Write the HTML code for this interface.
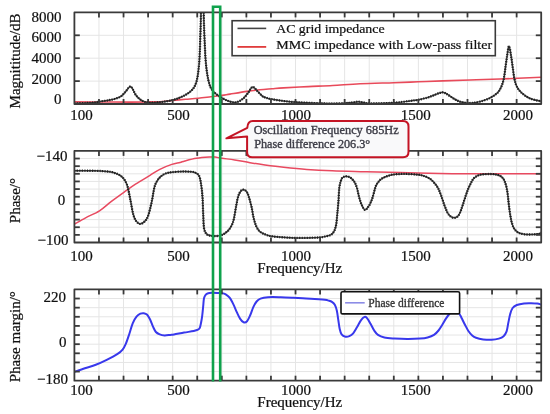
<!DOCTYPE html><html><head><meta charset="utf-8"><style>html,body{margin:0;padding:0;background:#fff;width:550px;height:414px;overflow:hidden}svg{display:block}text{font-family:"Liberation Serif","Times New Roman",serif;fill:#111;stroke:#111;stroke-width:0.22}</style></head><body>
<svg width="550" height="414" viewBox="0 0 550 414">
<clipPath id="ctop"><rect x="74.40" y="12.40" width="466.80" height="91.60"/></clipPath>
<clipPath id="cmid"><rect x="74.40" y="150.90" width="466.80" height="91.60"/></clipPath>
<clipPath id="cbot"><rect x="74.40" y="289.40" width="466.80" height="91.30"/></clipPath>
<g stroke="#e5e5e5" stroke-width="1"><line x1="98.97" y1="12.40" x2="98.97" y2="104.00"/><line x1="123.54" y1="12.40" x2="123.54" y2="104.00"/><line x1="148.11" y1="12.40" x2="148.11" y2="104.00"/><line x1="172.67" y1="12.40" x2="172.67" y2="104.00"/><line x1="197.24" y1="12.40" x2="197.24" y2="104.00"/><line x1="221.81" y1="12.40" x2="221.81" y2="104.00"/><line x1="246.38" y1="12.40" x2="246.38" y2="104.00"/><line x1="270.95" y1="12.40" x2="270.95" y2="104.00"/><line x1="295.52" y1="12.40" x2="295.52" y2="104.00"/><line x1="320.08" y1="12.40" x2="320.08" y2="104.00"/><line x1="344.65" y1="12.40" x2="344.65" y2="104.00"/><line x1="369.22" y1="12.40" x2="369.22" y2="104.00"/><line x1="393.79" y1="12.40" x2="393.79" y2="104.00"/><line x1="418.36" y1="12.40" x2="418.36" y2="104.00"/><line x1="442.93" y1="12.40" x2="442.93" y2="104.00"/><line x1="467.49" y1="12.40" x2="467.49" y2="104.00"/><line x1="492.06" y1="12.40" x2="492.06" y2="104.00"/><line x1="516.63" y1="12.40" x2="516.63" y2="104.00"/><line x1="74.40" y1="35.30" x2="541.20" y2="35.30"/><line x1="74.40" y1="58.20" x2="541.20" y2="58.20"/><line x1="74.40" y1="81.10" x2="541.20" y2="81.10"/></g>
<g clip-path="url(#ctop)" fill="none" stroke-linejoin="round">
<path d="M74.40,101.90 C78.67,101.92 90.73,101.97 100.00,102.00 C109.27,102.03 121.67,102.12 130.00,102.10 C138.33,102.08 145.00,101.97 150.00,101.90 C155.00,101.83 156.22,101.95 160.00,101.70 C163.78,101.45 168.45,100.80 172.70,100.40 C176.95,100.00 181.25,99.67 185.50,99.30 C189.75,98.93 193.97,98.63 198.20,98.20 C202.43,97.77 206.93,97.17 210.90,96.70 C214.87,96.23 218.82,95.83 222.00,95.40 C225.18,94.97 225.83,94.77 230.00,94.10 C234.17,93.43 242.00,92.12 247.00,91.40 C252.00,90.68 255.83,90.23 260.00,89.80 C264.17,89.37 268.07,89.12 272.00,88.80 C275.93,88.48 277.57,88.27 283.60,87.90 C289.63,87.53 300.02,87.00 308.20,86.60 C316.38,86.20 324.07,85.97 332.70,85.50 C341.33,85.03 349.85,84.27 360.00,83.80 C370.15,83.33 383.90,83.03 393.60,82.70 C403.30,82.37 410.02,82.10 418.20,81.80 C426.38,81.50 434.07,81.20 442.70,80.90 C451.33,80.60 460.45,80.32 470.00,80.00 C479.55,79.68 488.13,79.45 500.00,79.00 C511.87,78.55 534.33,77.58 541.20,77.30" stroke="#e84a5a" stroke-width="1.6"/>
<path d="M74.40,103.40 C76.33,103.33 82.57,103.17 86.00,103.00 C89.43,102.83 92.83,102.63 95.00,102.40 C97.17,102.17 97.33,101.87 99.00,101.60 C100.67,101.33 103.17,101.07 105.00,100.80 C106.83,100.53 108.25,100.37 110.00,100.00 C111.75,99.63 113.68,99.20 115.50,98.60 C117.32,98.00 119.23,97.53 120.90,96.40 C122.57,95.27 124.28,93.17 125.50,91.80 C126.72,90.43 127.33,89.08 128.20,88.20 C129.07,87.32 129.95,86.35 130.70,86.50 C131.45,86.65 131.90,87.77 132.70,89.10 C133.50,90.43 134.43,92.92 135.50,94.50 C136.57,96.08 137.75,97.45 139.10,98.60 C140.45,99.75 142.08,100.75 143.60,101.40 C145.12,102.05 146.53,102.28 148.20,102.50 C149.87,102.72 151.63,102.75 153.60,102.70 C155.57,102.65 158.10,102.38 160.00,102.20 C161.90,102.02 162.87,101.97 165.00,101.60 C167.13,101.23 170.40,100.63 172.80,100.00 C175.20,99.37 177.37,98.62 179.40,97.80 C181.43,96.98 183.33,96.02 185.00,95.10 C186.67,94.18 188.10,93.32 189.40,92.30 C190.70,91.28 191.87,90.12 192.80,89.00 C193.73,87.88 194.35,86.97 195.00,85.60 C195.65,84.23 196.23,82.50 196.70,80.80 C197.17,79.10 197.47,77.53 197.80,75.40 C198.13,73.27 198.43,70.57 198.70,68.00 C198.97,65.43 199.17,64.00 199.40,60.00 C199.63,56.00 199.87,50.67 200.10,44.00 C200.33,37.33 200.62,26.50 200.80,20.00 C200.98,13.50 201.13,7.50 201.20,5.00" stroke="#3a3a3a" stroke-width="1.5"/>
<path d="M74.40,103.40 C76.33,103.33 82.57,103.17 86.00,103.00 C89.43,102.83 92.83,102.63 95.00,102.40 C97.17,102.17 97.33,101.87 99.00,101.60 C100.67,101.33 103.17,101.07 105.00,100.80 C106.83,100.53 108.25,100.37 110.00,100.00 C111.75,99.63 113.68,99.20 115.50,98.60 C117.32,98.00 119.23,97.53 120.90,96.40 C122.57,95.27 124.28,93.17 125.50,91.80 C126.72,90.43 127.33,89.08 128.20,88.20 C129.07,87.32 129.95,86.35 130.70,86.50 C131.45,86.65 131.90,87.77 132.70,89.10 C133.50,90.43 134.43,92.92 135.50,94.50 C136.57,96.08 137.75,97.45 139.10,98.60 C140.45,99.75 142.08,100.75 143.60,101.40 C145.12,102.05 146.53,102.28 148.20,102.50 C149.87,102.72 151.63,102.75 153.60,102.70 C155.57,102.65 158.10,102.38 160.00,102.20 C161.90,102.02 162.87,101.97 165.00,101.60 C167.13,101.23 170.40,100.63 172.80,100.00 C175.20,99.37 177.37,98.62 179.40,97.80 C181.43,96.98 183.33,96.02 185.00,95.10 C186.67,94.18 188.10,93.32 189.40,92.30 C190.70,91.28 191.87,90.12 192.80,89.00 C193.73,87.88 194.35,86.97 195.00,85.60 C195.65,84.23 196.23,82.50 196.70,80.80 C197.17,79.10 197.47,77.53 197.80,75.40 C198.13,73.27 198.43,70.57 198.70,68.00 C198.97,65.43 199.17,64.00 199.40,60.00 C199.63,56.00 199.87,50.67 200.10,44.00 C200.33,37.33 200.62,26.50 200.80,20.00 C200.98,13.50 201.13,7.50 201.20,5.00" stroke="#1e1e1e" stroke-width="2.3" stroke-dasharray="1.1 1.4"/>
<path d="M203.50,5.00 C203.58,8.33 203.78,18.33 204.00,25.00 C204.22,31.67 204.53,39.25 204.80,45.00 C205.07,50.75 205.28,55.25 205.60,59.50 C205.92,63.75 206.25,67.12 206.70,70.50 C207.15,73.88 207.65,76.98 208.30,79.80 C208.95,82.62 209.57,85.25 210.60,87.40 C211.63,89.55 212.77,91.05 214.50,92.70 C216.23,94.35 218.72,95.92 221.00,97.30 C223.28,98.68 225.78,100.15 228.20,101.00 C230.62,101.85 233.08,102.73 235.50,102.40 C237.92,102.07 240.58,100.62 242.70,99.00 C244.82,97.38 246.57,94.70 248.20,92.70 C249.83,90.70 250.98,87.28 252.50,87.00 C254.02,86.72 255.60,89.43 257.30,91.00 C259.00,92.57 261.33,95.32 262.70,96.40 C264.07,97.48 264.12,97.05 265.50,97.50 C266.88,97.95 267.98,98.52 271.00,99.10 C274.02,99.68 279.37,100.48 283.60,101.00 C287.83,101.52 290.33,101.82 296.40,102.20 C302.47,102.58 313.95,103.07 320.00,103.30 C326.05,103.53 328.53,103.63 332.70,103.60 C336.87,103.57 341.78,103.27 345.00,103.10 C348.22,102.93 349.80,102.83 352.00,102.60 C354.20,102.37 356.20,101.70 358.20,101.70 C360.20,101.70 362.03,102.30 364.00,102.60 C365.97,102.90 365.07,103.47 370.00,103.50 C374.93,103.53 386.93,103.23 393.60,102.80 C400.27,102.37 405.82,101.42 410.00,100.90 C414.18,100.38 415.78,100.25 418.70,99.70 C421.62,99.15 424.77,98.43 427.50,97.60 C430.23,96.77 433.10,95.47 435.10,94.70 C437.10,93.93 438.32,93.40 439.50,93.00 C440.68,92.60 441.37,92.33 442.20,92.30 C443.03,92.27 443.68,92.48 444.50,92.80 C445.32,93.12 445.58,93.25 447.10,94.20 C448.62,95.15 451.42,97.23 453.60,98.50 C455.78,99.77 458.02,101.07 460.20,101.80 C462.38,102.53 464.73,102.72 466.70,102.90 C468.67,103.08 469.78,103.12 472.00,102.90 C474.22,102.68 477.07,102.38 480.00,101.60 C482.93,100.82 486.67,99.68 489.60,98.20 C492.53,96.72 495.62,94.68 497.60,92.70 C499.58,90.72 500.45,88.70 501.50,86.30 C502.55,83.90 503.23,81.50 503.90,78.30 C504.57,75.10 504.97,70.82 505.50,67.10 C506.03,63.38 506.52,59.50 507.10,56.00 C507.68,52.50 508.33,46.10 509.00,46.10 C509.67,46.10 510.48,52.50 511.10,56.00 C511.72,59.50 512.17,63.38 512.70,67.10 C513.23,70.82 513.63,75.10 514.30,78.30 C514.97,81.50 515.50,83.90 516.70,86.30 C517.90,88.70 519.37,90.72 521.50,92.70 C523.63,94.68 526.22,96.75 529.50,98.20 C532.78,99.65 539.25,100.87 541.20,101.40" stroke="#3a3a3a" stroke-width="1.5"/>
<path d="M203.50,5.00 C203.58,8.33 203.78,18.33 204.00,25.00 C204.22,31.67 204.53,39.25 204.80,45.00 C205.07,50.75 205.28,55.25 205.60,59.50 C205.92,63.75 206.25,67.12 206.70,70.50 C207.15,73.88 207.65,76.98 208.30,79.80 C208.95,82.62 209.57,85.25 210.60,87.40 C211.63,89.55 212.77,91.05 214.50,92.70 C216.23,94.35 218.72,95.92 221.00,97.30 C223.28,98.68 225.78,100.15 228.20,101.00 C230.62,101.85 233.08,102.73 235.50,102.40 C237.92,102.07 240.58,100.62 242.70,99.00 C244.82,97.38 246.57,94.70 248.20,92.70 C249.83,90.70 250.98,87.28 252.50,87.00 C254.02,86.72 255.60,89.43 257.30,91.00 C259.00,92.57 261.33,95.32 262.70,96.40 C264.07,97.48 264.12,97.05 265.50,97.50 C266.88,97.95 267.98,98.52 271.00,99.10 C274.02,99.68 279.37,100.48 283.60,101.00 C287.83,101.52 290.33,101.82 296.40,102.20 C302.47,102.58 313.95,103.07 320.00,103.30 C326.05,103.53 328.53,103.63 332.70,103.60 C336.87,103.57 341.78,103.27 345.00,103.10 C348.22,102.93 349.80,102.83 352.00,102.60 C354.20,102.37 356.20,101.70 358.20,101.70 C360.20,101.70 362.03,102.30 364.00,102.60 C365.97,102.90 365.07,103.47 370.00,103.50 C374.93,103.53 386.93,103.23 393.60,102.80 C400.27,102.37 405.82,101.42 410.00,100.90 C414.18,100.38 415.78,100.25 418.70,99.70 C421.62,99.15 424.77,98.43 427.50,97.60 C430.23,96.77 433.10,95.47 435.10,94.70 C437.10,93.93 438.32,93.40 439.50,93.00 C440.68,92.60 441.37,92.33 442.20,92.30 C443.03,92.27 443.68,92.48 444.50,92.80 C445.32,93.12 445.58,93.25 447.10,94.20 C448.62,95.15 451.42,97.23 453.60,98.50 C455.78,99.77 458.02,101.07 460.20,101.80 C462.38,102.53 464.73,102.72 466.70,102.90 C468.67,103.08 469.78,103.12 472.00,102.90 C474.22,102.68 477.07,102.38 480.00,101.60 C482.93,100.82 486.67,99.68 489.60,98.20 C492.53,96.72 495.62,94.68 497.60,92.70 C499.58,90.72 500.45,88.70 501.50,86.30 C502.55,83.90 503.23,81.50 503.90,78.30 C504.57,75.10 504.97,70.82 505.50,67.10 C506.03,63.38 506.52,59.50 507.10,56.00 C507.68,52.50 508.33,46.10 509.00,46.10 C509.67,46.10 510.48,52.50 511.10,56.00 C511.72,59.50 512.17,63.38 512.70,67.10 C513.23,70.82 513.63,75.10 514.30,78.30 C514.97,81.50 515.50,83.90 516.70,86.30 C517.90,88.70 519.37,90.72 521.50,92.70 C523.63,94.68 526.22,96.75 529.50,98.20 C532.78,99.65 539.25,100.87 541.20,101.40" stroke="#1e1e1e" stroke-width="2.3" stroke-dasharray="1.1 1.4"/>
</g>
<g stroke="#3a3a3a" stroke-width="1.8"><line x1="98.97" y1="12.40" x2="98.97" y2="17.40"/><line x1="98.97" y1="104.00" x2="98.97" y2="99.00"/><line x1="123.54" y1="12.40" x2="123.54" y2="17.40"/><line x1="123.54" y1="104.00" x2="123.54" y2="99.00"/><line x1="148.11" y1="12.40" x2="148.11" y2="17.40"/><line x1="148.11" y1="104.00" x2="148.11" y2="99.00"/><line x1="172.67" y1="12.40" x2="172.67" y2="17.40"/><line x1="172.67" y1="104.00" x2="172.67" y2="99.00"/><line x1="197.24" y1="12.40" x2="197.24" y2="17.40"/><line x1="197.24" y1="104.00" x2="197.24" y2="99.00"/><line x1="221.81" y1="12.40" x2="221.81" y2="17.40"/><line x1="221.81" y1="104.00" x2="221.81" y2="99.00"/><line x1="246.38" y1="12.40" x2="246.38" y2="17.40"/><line x1="246.38" y1="104.00" x2="246.38" y2="99.00"/><line x1="270.95" y1="12.40" x2="270.95" y2="17.40"/><line x1="270.95" y1="104.00" x2="270.95" y2="99.00"/><line x1="295.52" y1="12.40" x2="295.52" y2="17.40"/><line x1="295.52" y1="104.00" x2="295.52" y2="99.00"/><line x1="320.08" y1="12.40" x2="320.08" y2="17.40"/><line x1="320.08" y1="104.00" x2="320.08" y2="99.00"/><line x1="344.65" y1="12.40" x2="344.65" y2="17.40"/><line x1="344.65" y1="104.00" x2="344.65" y2="99.00"/><line x1="369.22" y1="12.40" x2="369.22" y2="17.40"/><line x1="369.22" y1="104.00" x2="369.22" y2="99.00"/><line x1="393.79" y1="12.40" x2="393.79" y2="17.40"/><line x1="393.79" y1="104.00" x2="393.79" y2="99.00"/><line x1="418.36" y1="12.40" x2="418.36" y2="17.40"/><line x1="418.36" y1="104.00" x2="418.36" y2="99.00"/><line x1="442.93" y1="12.40" x2="442.93" y2="17.40"/><line x1="442.93" y1="104.00" x2="442.93" y2="99.00"/><line x1="467.49" y1="12.40" x2="467.49" y2="17.40"/><line x1="467.49" y1="104.00" x2="467.49" y2="99.00"/><line x1="492.06" y1="12.40" x2="492.06" y2="17.40"/><line x1="492.06" y1="104.00" x2="492.06" y2="99.00"/><line x1="516.63" y1="12.40" x2="516.63" y2="17.40"/><line x1="516.63" y1="104.00" x2="516.63" y2="99.00"/><line x1="74.40" y1="35.30" x2="79.80" y2="35.30"/><line x1="541.20" y1="35.30" x2="535.80" y2="35.30"/><line x1="74.40" y1="58.20" x2="79.80" y2="58.20"/><line x1="541.20" y1="58.20" x2="535.80" y2="58.20"/><line x1="74.40" y1="81.10" x2="79.80" y2="81.10"/><line x1="541.20" y1="81.10" x2="535.80" y2="81.10"/><rect x="74.40" y="12.40" width="466.80" height="91.60" fill="none" stroke-linejoin="round"/></g>
<rect x="232.1" y="20.7" width="263.2" height="35" fill="#fff" stroke="#3a3a3a" stroke-width="1.6"/>
<line x1="237.5" y1="28.4" x2="266.2" y2="28.4" stroke="#444" stroke-width="1.6"/>
<line x1="237.5" y1="46.9" x2="266.2" y2="46.9" stroke="#e03c3c" stroke-width="1.8"/>
<text x="276.2" y="33.3" font-size="13.5" textLength="108.4" lengthAdjust="spacingAndGlyphs" style="stroke:#111;stroke-width:0.22">AC grid impedance</text>
<text x="276.2" y="48.6" font-size="13.5" textLength="215.9" lengthAdjust="spacingAndGlyphs" style="stroke:#111;stroke-width:0.22">MMC impedance with Low-pass filter</text>
<g stroke="#e5e5e5" stroke-width="1"><line x1="98.97" y1="150.90" x2="98.97" y2="242.50"/><line x1="123.54" y1="150.90" x2="123.54" y2="242.50"/><line x1="148.11" y1="150.90" x2="148.11" y2="242.50"/><line x1="172.67" y1="150.90" x2="172.67" y2="242.50"/><line x1="197.24" y1="150.90" x2="197.24" y2="242.50"/><line x1="221.81" y1="150.90" x2="221.81" y2="242.50"/><line x1="246.38" y1="150.90" x2="246.38" y2="242.50"/><line x1="270.95" y1="150.90" x2="270.95" y2="242.50"/><line x1="295.52" y1="150.90" x2="295.52" y2="242.50"/><line x1="320.08" y1="150.90" x2="320.08" y2="242.50"/><line x1="344.65" y1="150.90" x2="344.65" y2="242.50"/><line x1="369.22" y1="150.90" x2="369.22" y2="242.50"/><line x1="393.79" y1="150.90" x2="393.79" y2="242.50"/><line x1="418.36" y1="150.90" x2="418.36" y2="242.50"/><line x1="442.93" y1="150.90" x2="442.93" y2="242.50"/><line x1="467.49" y1="150.90" x2="467.49" y2="242.50"/><line x1="492.06" y1="150.90" x2="492.06" y2="242.50"/><line x1="516.63" y1="150.90" x2="516.63" y2="242.50"/><line x1="74.40" y1="158.53" x2="541.20" y2="158.53"/><line x1="74.40" y1="166.17" x2="541.20" y2="166.17"/><line x1="74.40" y1="173.80" x2="541.20" y2="173.80"/><line x1="74.40" y1="181.43" x2="541.20" y2="181.43"/><line x1="74.40" y1="189.07" x2="541.20" y2="189.07"/><line x1="74.40" y1="196.70" x2="541.20" y2="196.70"/><line x1="74.40" y1="204.33" x2="541.20" y2="204.33"/><line x1="74.40" y1="211.97" x2="541.20" y2="211.97"/><line x1="74.40" y1="219.60" x2="541.20" y2="219.60"/><line x1="74.40" y1="227.23" x2="541.20" y2="227.23"/><line x1="74.40" y1="234.87" x2="541.20" y2="234.87"/></g>
<g clip-path="url(#cmid)" fill="none" stroke-linejoin="round">
<path d="M74.40,224.30 C76.27,223.22 81.42,220.05 85.60,217.80 C89.78,215.55 95.25,213.50 99.50,210.80 C103.75,208.10 107.03,204.68 111.10,201.60 C115.17,198.52 119.83,195.20 123.90,192.30 C127.97,189.40 131.15,187.03 135.50,184.20 C139.85,181.37 145.95,177.78 150.00,175.30 C154.05,172.82 156.17,171.12 159.80,169.30 C163.43,167.48 168.43,165.53 171.80,164.40 C175.17,163.27 177.82,163.08 180.00,162.50 C182.18,161.92 182.15,161.60 184.90,160.90 C187.65,160.20 192.43,158.93 196.50,158.30 C200.57,157.67 206.22,157.30 209.30,157.10 C212.38,156.90 212.88,156.90 215.00,157.10 C217.12,157.30 218.72,157.83 222.00,158.30 C225.28,158.77 230.03,159.17 234.70,159.90 C239.37,160.63 244.95,161.87 250.00,162.70 C255.05,163.53 259.40,164.15 265.00,164.90 C270.60,165.65 276.63,166.45 283.60,167.20 C290.57,167.95 298.68,168.80 306.80,169.40 C314.92,170.00 322.60,170.42 332.30,170.80 C342.00,171.18 353.72,171.40 365.00,171.70 C376.28,172.00 387.50,172.30 400.00,172.60 C412.50,172.90 428.33,173.32 440.00,173.50 C451.67,173.68 453.13,173.67 470.00,173.70 C486.87,173.73 529.33,173.70 541.20,173.70" stroke="#e84a60" stroke-width="1.5"/>
<path d="M74.40,170.70 C77.83,170.72 89.62,170.68 95.00,170.80 C100.38,170.92 103.83,171.17 106.70,171.40 C109.57,171.63 110.38,171.75 112.20,172.20 C114.02,172.65 115.97,173.32 117.60,174.10 C119.23,174.88 120.82,175.88 122.00,176.90 C123.18,177.92 123.88,178.92 124.70,180.20 C125.52,181.48 126.27,182.88 126.90,184.60 C127.53,186.32 128.02,188.43 128.50,190.50 C128.98,192.57 129.37,194.83 129.80,197.00 C130.23,199.17 130.53,200.62 131.10,203.50 C131.67,206.38 132.38,211.40 133.20,214.30 C134.02,217.20 134.82,219.30 136.00,220.90 C137.18,222.50 138.85,223.82 140.30,223.90 C141.75,223.98 143.43,222.63 144.70,221.40 C145.97,220.17 146.92,218.95 147.90,216.50 C148.88,214.05 149.88,209.57 150.60,206.70 C151.32,203.83 151.73,201.67 152.20,199.30 C152.67,196.93 152.95,194.78 153.40,192.50 C153.85,190.22 154.20,187.65 154.90,185.60 C155.60,183.55 156.60,181.73 157.60,180.20 C158.60,178.67 159.62,177.50 160.90,176.40 C162.18,175.30 163.48,174.30 165.30,173.60 C167.12,172.90 168.90,172.55 171.80,172.20 C174.70,171.85 179.42,171.57 182.70,171.50 C185.98,171.43 189.32,171.57 191.50,171.80 C193.68,172.03 194.53,172.23 195.80,172.90 C197.07,173.57 198.28,174.32 199.10,175.80 C199.92,177.28 200.25,179.52 200.70,181.80 C201.15,184.08 201.48,186.72 201.80,189.50 C202.12,192.28 202.37,194.42 202.60,198.50 C202.83,202.58 202.97,209.05 203.20,214.00 C203.43,218.95 203.52,224.95 204.00,228.20 C204.48,231.45 205.13,232.27 206.10,233.50 C207.07,234.73 207.93,235.18 209.80,235.60 C211.67,236.02 215.17,236.17 217.30,236.00 C219.43,235.83 220.83,235.45 222.60,234.60 C224.37,233.75 226.40,232.42 227.90,230.90 C229.40,229.38 230.60,227.52 231.60,225.50 C232.60,223.48 233.13,222.08 233.90,218.80 C234.67,215.52 235.47,209.60 236.20,205.80 C236.93,202.00 237.48,198.52 238.30,196.00 C239.12,193.48 240.17,191.75 241.10,190.70 C242.03,189.65 242.97,189.52 243.90,189.70 C244.83,189.88 245.88,190.63 246.70,191.80 C247.52,192.97 247.98,194.13 248.80,196.70 C249.62,199.27 250.78,203.58 251.60,207.20 C252.42,210.82 252.88,215.13 253.70,218.40 C254.52,221.67 255.45,224.58 256.50,226.80 C257.55,229.02 258.48,230.40 260.00,231.70 C261.52,233.00 263.93,233.88 265.60,234.60 C267.27,235.32 268.27,235.63 270.00,236.00 C271.73,236.37 273.88,236.58 276.00,236.80 C278.12,237.02 279.45,237.12 282.70,237.30 C285.95,237.48 289.55,237.87 295.50,237.90 C301.45,237.93 313.32,237.77 318.40,237.50 C323.48,237.23 323.88,236.77 326.00,236.30 C328.12,235.83 329.72,235.60 331.10,234.70 C332.48,233.80 333.45,232.60 334.30,230.90 C335.15,229.20 335.70,227.32 336.20,224.50 C336.70,221.68 336.93,217.77 337.30,214.00 C337.67,210.23 338.05,206.40 338.40,201.90 C338.75,197.40 338.87,190.82 339.40,187.00 C339.93,183.18 340.88,180.68 341.60,179.00 C342.32,177.32 342.82,177.33 343.70,176.90 C344.58,176.47 345.83,176.32 346.90,176.40 C347.97,176.48 348.87,176.52 350.10,177.40 C351.33,178.28 353.15,179.92 354.30,181.70 C355.45,183.48 356.20,185.53 357.00,188.10 C357.80,190.67 358.30,194.27 359.10,197.10 C359.90,199.93 360.82,202.97 361.80,205.10 C362.78,207.23 363.90,209.65 365.00,209.90 C366.10,210.15 367.53,207.67 368.40,206.60 C369.27,205.53 369.52,204.97 370.20,203.50 C370.88,202.03 371.58,200.65 372.50,197.80 C373.42,194.95 374.63,189.15 375.70,186.40 C376.77,183.65 377.73,182.68 378.90,181.30 C380.07,179.92 381.00,179.07 382.70,178.10 C384.40,177.13 386.97,176.13 389.10,175.50 C391.23,174.87 392.75,174.57 395.50,174.30 C398.25,174.03 401.78,173.83 405.60,173.90 C409.42,173.97 415.22,174.32 418.40,174.70 C421.58,175.08 422.80,175.53 424.70,176.20 C426.60,176.87 428.25,177.63 429.80,178.70 C431.35,179.77 432.62,181.02 434.00,182.60 C435.38,184.18 436.92,186.05 438.10,188.20 C439.28,190.35 440.03,192.62 441.10,195.50 C442.17,198.38 443.40,202.58 444.50,205.50 C445.60,208.42 446.63,211.13 447.70,213.00 C448.77,214.87 449.83,215.90 450.90,216.70 C451.97,217.50 453.03,217.80 454.10,217.80 C455.17,217.80 456.33,217.50 457.30,216.70 C458.27,215.90 459.02,214.87 459.90,213.00 C460.78,211.13 461.70,208.17 462.60,205.50 C463.50,202.83 464.42,199.65 465.30,197.00 C466.18,194.35 466.98,191.88 467.90,189.60 C468.82,187.32 469.80,185.20 470.80,183.30 C471.80,181.40 472.42,179.60 473.90,178.20 C475.38,176.80 477.13,175.60 479.70,174.90 C482.27,174.20 486.42,174.03 489.30,174.00 C492.18,173.97 494.90,174.18 497.00,174.70 C499.10,175.22 500.62,175.98 501.90,177.10 C503.18,178.22 503.90,179.55 504.70,181.40 C505.50,183.25 506.17,185.77 506.70,188.20 C507.23,190.63 507.53,193.15 507.90,196.00 C508.27,198.85 508.48,201.97 508.90,205.30 C509.32,208.63 509.88,212.98 510.40,216.00 C510.92,219.02 511.37,221.28 512.00,223.40 C512.63,225.52 513.22,227.20 514.20,228.70 C515.18,230.20 516.22,231.47 517.90,232.40 C519.58,233.33 521.82,233.97 524.30,234.30 C526.78,234.63 530.32,234.48 532.80,234.40 C535.28,234.32 537.80,234.12 539.20,233.80 C540.60,233.48 540.87,232.72 541.20,232.50" stroke="#3a3a3a" stroke-width="1.5"/>
<path d="M74.40,170.70 C77.83,170.72 89.62,170.68 95.00,170.80 C100.38,170.92 103.83,171.17 106.70,171.40 C109.57,171.63 110.38,171.75 112.20,172.20 C114.02,172.65 115.97,173.32 117.60,174.10 C119.23,174.88 120.82,175.88 122.00,176.90 C123.18,177.92 123.88,178.92 124.70,180.20 C125.52,181.48 126.27,182.88 126.90,184.60 C127.53,186.32 128.02,188.43 128.50,190.50 C128.98,192.57 129.37,194.83 129.80,197.00 C130.23,199.17 130.53,200.62 131.10,203.50 C131.67,206.38 132.38,211.40 133.20,214.30 C134.02,217.20 134.82,219.30 136.00,220.90 C137.18,222.50 138.85,223.82 140.30,223.90 C141.75,223.98 143.43,222.63 144.70,221.40 C145.97,220.17 146.92,218.95 147.90,216.50 C148.88,214.05 149.88,209.57 150.60,206.70 C151.32,203.83 151.73,201.67 152.20,199.30 C152.67,196.93 152.95,194.78 153.40,192.50 C153.85,190.22 154.20,187.65 154.90,185.60 C155.60,183.55 156.60,181.73 157.60,180.20 C158.60,178.67 159.62,177.50 160.90,176.40 C162.18,175.30 163.48,174.30 165.30,173.60 C167.12,172.90 168.90,172.55 171.80,172.20 C174.70,171.85 179.42,171.57 182.70,171.50 C185.98,171.43 189.32,171.57 191.50,171.80 C193.68,172.03 194.53,172.23 195.80,172.90 C197.07,173.57 198.28,174.32 199.10,175.80 C199.92,177.28 200.25,179.52 200.70,181.80 C201.15,184.08 201.48,186.72 201.80,189.50 C202.12,192.28 202.37,194.42 202.60,198.50 C202.83,202.58 202.97,209.05 203.20,214.00 C203.43,218.95 203.52,224.95 204.00,228.20 C204.48,231.45 205.13,232.27 206.10,233.50 C207.07,234.73 207.93,235.18 209.80,235.60 C211.67,236.02 215.17,236.17 217.30,236.00 C219.43,235.83 220.83,235.45 222.60,234.60 C224.37,233.75 226.40,232.42 227.90,230.90 C229.40,229.38 230.60,227.52 231.60,225.50 C232.60,223.48 233.13,222.08 233.90,218.80 C234.67,215.52 235.47,209.60 236.20,205.80 C236.93,202.00 237.48,198.52 238.30,196.00 C239.12,193.48 240.17,191.75 241.10,190.70 C242.03,189.65 242.97,189.52 243.90,189.70 C244.83,189.88 245.88,190.63 246.70,191.80 C247.52,192.97 247.98,194.13 248.80,196.70 C249.62,199.27 250.78,203.58 251.60,207.20 C252.42,210.82 252.88,215.13 253.70,218.40 C254.52,221.67 255.45,224.58 256.50,226.80 C257.55,229.02 258.48,230.40 260.00,231.70 C261.52,233.00 263.93,233.88 265.60,234.60 C267.27,235.32 268.27,235.63 270.00,236.00 C271.73,236.37 273.88,236.58 276.00,236.80 C278.12,237.02 279.45,237.12 282.70,237.30 C285.95,237.48 289.55,237.87 295.50,237.90 C301.45,237.93 313.32,237.77 318.40,237.50 C323.48,237.23 323.88,236.77 326.00,236.30 C328.12,235.83 329.72,235.60 331.10,234.70 C332.48,233.80 333.45,232.60 334.30,230.90 C335.15,229.20 335.70,227.32 336.20,224.50 C336.70,221.68 336.93,217.77 337.30,214.00 C337.67,210.23 338.05,206.40 338.40,201.90 C338.75,197.40 338.87,190.82 339.40,187.00 C339.93,183.18 340.88,180.68 341.60,179.00 C342.32,177.32 342.82,177.33 343.70,176.90 C344.58,176.47 345.83,176.32 346.90,176.40 C347.97,176.48 348.87,176.52 350.10,177.40 C351.33,178.28 353.15,179.92 354.30,181.70 C355.45,183.48 356.20,185.53 357.00,188.10 C357.80,190.67 358.30,194.27 359.10,197.10 C359.90,199.93 360.82,202.97 361.80,205.10 C362.78,207.23 363.90,209.65 365.00,209.90 C366.10,210.15 367.53,207.67 368.40,206.60 C369.27,205.53 369.52,204.97 370.20,203.50 C370.88,202.03 371.58,200.65 372.50,197.80 C373.42,194.95 374.63,189.15 375.70,186.40 C376.77,183.65 377.73,182.68 378.90,181.30 C380.07,179.92 381.00,179.07 382.70,178.10 C384.40,177.13 386.97,176.13 389.10,175.50 C391.23,174.87 392.75,174.57 395.50,174.30 C398.25,174.03 401.78,173.83 405.60,173.90 C409.42,173.97 415.22,174.32 418.40,174.70 C421.58,175.08 422.80,175.53 424.70,176.20 C426.60,176.87 428.25,177.63 429.80,178.70 C431.35,179.77 432.62,181.02 434.00,182.60 C435.38,184.18 436.92,186.05 438.10,188.20 C439.28,190.35 440.03,192.62 441.10,195.50 C442.17,198.38 443.40,202.58 444.50,205.50 C445.60,208.42 446.63,211.13 447.70,213.00 C448.77,214.87 449.83,215.90 450.90,216.70 C451.97,217.50 453.03,217.80 454.10,217.80 C455.17,217.80 456.33,217.50 457.30,216.70 C458.27,215.90 459.02,214.87 459.90,213.00 C460.78,211.13 461.70,208.17 462.60,205.50 C463.50,202.83 464.42,199.65 465.30,197.00 C466.18,194.35 466.98,191.88 467.90,189.60 C468.82,187.32 469.80,185.20 470.80,183.30 C471.80,181.40 472.42,179.60 473.90,178.20 C475.38,176.80 477.13,175.60 479.70,174.90 C482.27,174.20 486.42,174.03 489.30,174.00 C492.18,173.97 494.90,174.18 497.00,174.70 C499.10,175.22 500.62,175.98 501.90,177.10 C503.18,178.22 503.90,179.55 504.70,181.40 C505.50,183.25 506.17,185.77 506.70,188.20 C507.23,190.63 507.53,193.15 507.90,196.00 C508.27,198.85 508.48,201.97 508.90,205.30 C509.32,208.63 509.88,212.98 510.40,216.00 C510.92,219.02 511.37,221.28 512.00,223.40 C512.63,225.52 513.22,227.20 514.20,228.70 C515.18,230.20 516.22,231.47 517.90,232.40 C519.58,233.33 521.82,233.97 524.30,234.30 C526.78,234.63 530.32,234.48 532.80,234.40 C535.28,234.32 537.80,234.12 539.20,233.80 C540.60,233.48 540.87,232.72 541.20,232.50" stroke="#1e1e1e" stroke-width="2.3" stroke-dasharray="1.1 1.4"/>
</g>
<g stroke="#3a3a3a" stroke-width="1.8"><line x1="98.97" y1="150.90" x2="98.97" y2="155.90"/><line x1="98.97" y1="242.50" x2="98.97" y2="237.50"/><line x1="123.54" y1="150.90" x2="123.54" y2="155.90"/><line x1="123.54" y1="242.50" x2="123.54" y2="237.50"/><line x1="148.11" y1="150.90" x2="148.11" y2="155.90"/><line x1="148.11" y1="242.50" x2="148.11" y2="237.50"/><line x1="172.67" y1="150.90" x2="172.67" y2="155.90"/><line x1="172.67" y1="242.50" x2="172.67" y2="237.50"/><line x1="197.24" y1="150.90" x2="197.24" y2="155.90"/><line x1="197.24" y1="242.50" x2="197.24" y2="237.50"/><line x1="221.81" y1="150.90" x2="221.81" y2="155.90"/><line x1="221.81" y1="242.50" x2="221.81" y2="237.50"/><line x1="246.38" y1="150.90" x2="246.38" y2="155.90"/><line x1="246.38" y1="242.50" x2="246.38" y2="237.50"/><line x1="270.95" y1="150.90" x2="270.95" y2="155.90"/><line x1="270.95" y1="242.50" x2="270.95" y2="237.50"/><line x1="295.52" y1="150.90" x2="295.52" y2="155.90"/><line x1="295.52" y1="242.50" x2="295.52" y2="237.50"/><line x1="320.08" y1="150.90" x2="320.08" y2="155.90"/><line x1="320.08" y1="242.50" x2="320.08" y2="237.50"/><line x1="344.65" y1="150.90" x2="344.65" y2="155.90"/><line x1="344.65" y1="242.50" x2="344.65" y2="237.50"/><line x1="369.22" y1="150.90" x2="369.22" y2="155.90"/><line x1="369.22" y1="242.50" x2="369.22" y2="237.50"/><line x1="393.79" y1="150.90" x2="393.79" y2="155.90"/><line x1="393.79" y1="242.50" x2="393.79" y2="237.50"/><line x1="418.36" y1="150.90" x2="418.36" y2="155.90"/><line x1="418.36" y1="242.50" x2="418.36" y2="237.50"/><line x1="442.93" y1="150.90" x2="442.93" y2="155.90"/><line x1="442.93" y1="242.50" x2="442.93" y2="237.50"/><line x1="467.49" y1="150.90" x2="467.49" y2="155.90"/><line x1="467.49" y1="242.50" x2="467.49" y2="237.50"/><line x1="492.06" y1="150.90" x2="492.06" y2="155.90"/><line x1="492.06" y1="242.50" x2="492.06" y2="237.50"/><line x1="516.63" y1="150.90" x2="516.63" y2="155.90"/><line x1="516.63" y1="242.50" x2="516.63" y2="237.50"/><line x1="74.40" y1="158.53" x2="79.80" y2="158.53"/><line x1="541.20" y1="158.53" x2="535.80" y2="158.53"/><line x1="74.40" y1="166.17" x2="79.80" y2="166.17"/><line x1="541.20" y1="166.17" x2="535.80" y2="166.17"/><line x1="74.40" y1="173.80" x2="79.80" y2="173.80"/><line x1="541.20" y1="173.80" x2="535.80" y2="173.80"/><line x1="74.40" y1="181.43" x2="79.80" y2="181.43"/><line x1="541.20" y1="181.43" x2="535.80" y2="181.43"/><line x1="74.40" y1="189.07" x2="79.80" y2="189.07"/><line x1="541.20" y1="189.07" x2="535.80" y2="189.07"/><line x1="74.40" y1="196.70" x2="79.80" y2="196.70"/><line x1="541.20" y1="196.70" x2="535.80" y2="196.70"/><line x1="74.40" y1="204.33" x2="79.80" y2="204.33"/><line x1="541.20" y1="204.33" x2="535.80" y2="204.33"/><line x1="74.40" y1="211.97" x2="79.80" y2="211.97"/><line x1="541.20" y1="211.97" x2="535.80" y2="211.97"/><line x1="74.40" y1="219.60" x2="79.80" y2="219.60"/><line x1="541.20" y1="219.60" x2="535.80" y2="219.60"/><line x1="74.40" y1="227.23" x2="79.80" y2="227.23"/><line x1="541.20" y1="227.23" x2="535.80" y2="227.23"/><line x1="74.40" y1="234.87" x2="79.80" y2="234.87"/><line x1="541.20" y1="234.87" x2="535.80" y2="234.87"/><rect x="74.40" y="150.90" width="466.80" height="91.60" fill="none" stroke-linejoin="round"/></g>
<g stroke="#e5e5e5" stroke-width="1"><line x1="98.97" y1="289.40" x2="98.97" y2="380.70"/><line x1="123.54" y1="289.40" x2="123.54" y2="380.70"/><line x1="148.11" y1="289.40" x2="148.11" y2="380.70"/><line x1="172.67" y1="289.40" x2="172.67" y2="380.70"/><line x1="197.24" y1="289.40" x2="197.24" y2="380.70"/><line x1="221.81" y1="289.40" x2="221.81" y2="380.70"/><line x1="246.38" y1="289.40" x2="246.38" y2="380.70"/><line x1="270.95" y1="289.40" x2="270.95" y2="380.70"/><line x1="295.52" y1="289.40" x2="295.52" y2="380.70"/><line x1="320.08" y1="289.40" x2="320.08" y2="380.70"/><line x1="344.65" y1="289.40" x2="344.65" y2="380.70"/><line x1="369.22" y1="289.40" x2="369.22" y2="380.70"/><line x1="393.79" y1="289.40" x2="393.79" y2="380.70"/><line x1="418.36" y1="289.40" x2="418.36" y2="380.70"/><line x1="442.93" y1="289.40" x2="442.93" y2="380.70"/><line x1="467.49" y1="289.40" x2="467.49" y2="380.70"/><line x1="492.06" y1="289.40" x2="492.06" y2="380.70"/><line x1="516.63" y1="289.40" x2="516.63" y2="380.70"/><line x1="74.40" y1="298.53" x2="541.20" y2="298.53"/><line x1="74.40" y1="307.66" x2="541.20" y2="307.66"/><line x1="74.40" y1="316.79" x2="541.20" y2="316.79"/><line x1="74.40" y1="325.92" x2="541.20" y2="325.92"/><line x1="74.40" y1="335.05" x2="541.20" y2="335.05"/><line x1="74.40" y1="344.18" x2="541.20" y2="344.18"/><line x1="74.40" y1="353.31" x2="541.20" y2="353.31"/><line x1="74.40" y1="362.44" x2="541.20" y2="362.44"/><line x1="74.40" y1="371.57" x2="541.20" y2="371.57"/></g>
<g clip-path="url(#cbot)" fill="none" stroke-linejoin="round">
<path d="M74.40,371.80 C76.15,371.20 81.33,369.37 84.90,368.20 C88.47,367.03 92.17,366.18 95.80,364.80 C99.43,363.42 103.07,361.72 106.70,359.90 C110.33,358.08 114.95,355.62 117.60,353.90 C120.25,352.18 121.22,351.32 122.60,349.60 C123.98,347.88 124.78,346.20 125.90,343.60 C127.02,341.00 128.17,337.38 129.30,334.00 C130.43,330.62 131.50,326.20 132.70,323.30 C133.90,320.40 135.22,318.20 136.50,316.60 C137.78,315.00 139.18,314.27 140.40,313.70 C141.62,313.13 142.67,313.03 143.80,313.20 C144.93,313.37 146.15,313.65 147.20,314.70 C148.25,315.75 149.13,317.50 150.10,319.50 C151.07,321.50 152.03,324.62 153.00,326.70 C153.97,328.78 154.78,330.72 155.90,332.00 C157.02,333.28 158.27,333.83 159.70,334.40 C161.13,334.97 162.73,335.32 164.50,335.40 C166.27,335.48 168.72,335.05 170.30,334.90 C171.88,334.75 171.70,334.88 174.00,334.50 C176.30,334.12 180.82,333.18 184.10,332.60 C187.38,332.02 191.38,331.48 193.70,331.00 C196.02,330.52 196.98,330.22 198.00,329.70 C199.02,329.18 199.30,329.02 199.80,327.90 C200.30,326.78 200.60,325.02 201.00,323.00 C201.40,320.98 201.83,318.62 202.20,315.80 C202.57,312.98 202.90,309.02 203.20,306.10 C203.50,303.18 203.57,300.22 204.00,298.30 C204.43,296.38 205.10,295.45 205.80,294.60 C206.50,293.75 207.18,293.50 208.20,293.20 C209.22,292.90 210.28,292.85 211.90,292.80 C213.52,292.75 216.23,292.85 217.90,292.90 C219.57,292.95 220.60,292.87 221.90,293.10 C223.20,293.33 224.42,293.53 225.70,294.30 C226.98,295.07 228.32,296.02 229.60,297.70 C230.88,299.38 232.20,302.00 233.40,304.40 C234.60,306.80 235.67,309.68 236.80,312.10 C237.93,314.52 239.07,317.20 240.20,318.90 C241.33,320.60 242.47,321.90 243.60,322.30 C244.73,322.70 245.88,322.52 247.00,321.30 C248.12,320.08 249.27,317.33 250.30,315.00 C251.33,312.67 252.15,309.55 253.20,307.30 C254.25,305.05 255.38,302.95 256.60,301.50 C257.82,300.05 258.60,299.32 260.50,298.60 C262.40,297.88 264.63,297.43 268.00,297.20 C271.37,296.97 276.45,297.12 280.70,297.20 C284.95,297.28 289.25,297.50 293.50,297.70 C297.75,297.90 301.97,298.15 306.20,298.40 C310.43,298.65 315.77,298.97 318.90,299.20 C322.03,299.43 323.38,299.57 325.00,299.80 C326.62,300.03 327.45,300.25 328.60,300.60 C329.75,300.95 330.87,301.20 331.90,301.90 C332.93,302.60 333.98,303.35 334.80,304.80 C335.62,306.25 336.23,308.18 336.80,310.60 C337.37,313.02 337.72,316.23 338.20,319.30 C338.68,322.37 339.13,326.50 339.70,329.00 C340.27,331.50 340.63,333.02 341.60,334.30 C342.57,335.58 344.22,336.38 345.50,336.70 C346.78,337.02 348.02,336.77 349.30,336.20 C350.58,335.63 351.90,334.82 353.20,333.30 C354.50,331.78 355.82,329.27 357.10,327.10 C358.38,324.93 359.65,322.00 360.90,320.30 C362.15,318.60 363.62,317.30 364.60,316.90 C365.58,316.50 365.83,316.80 366.80,317.90 C367.77,319.00 369.17,321.40 370.40,323.50 C371.63,325.60 372.93,328.60 374.20,330.50 C375.47,332.40 376.30,333.73 378.00,334.90 C379.70,336.07 381.65,336.90 384.40,337.50 C387.15,338.10 390.68,338.25 394.50,338.50 C398.32,338.75 403.05,338.98 407.30,339.00 C411.55,339.02 416.62,338.85 420.00,338.60 C423.38,338.35 425.27,338.12 427.60,337.50 C429.93,336.88 432.18,336.07 434.00,334.90 C435.82,333.73 437.12,332.20 438.50,330.50 C439.88,328.80 441.03,326.72 442.30,324.70 C443.57,322.68 444.93,320.18 446.10,318.40 C447.27,316.62 448.23,315.32 449.30,314.00 C450.37,312.68 451.47,311.20 452.50,310.50 C453.53,309.80 454.53,309.55 455.50,309.80 C456.47,310.05 457.47,311.00 458.30,312.00 C459.13,313.00 459.88,314.67 460.50,315.80 C461.12,316.93 461.22,317.23 462.00,318.80 C462.78,320.37 464.13,323.17 465.20,325.20 C466.27,327.23 467.23,329.28 468.40,331.00 C469.57,332.72 470.93,334.37 472.20,335.50 C473.47,336.63 474.17,337.15 476.00,337.80 C477.83,338.45 480.60,339.07 483.20,339.40 C485.80,339.73 489.00,339.93 491.60,339.80 C494.20,339.67 496.80,339.20 498.80,338.60 C500.80,338.00 502.30,337.40 503.60,336.20 C504.90,335.00 505.80,333.70 506.60,331.40 C507.40,329.10 507.80,325.30 508.40,322.40 C509.00,319.50 509.50,316.40 510.20,314.00 C510.90,311.60 511.50,309.50 512.60,308.00 C513.70,306.50 514.90,305.77 516.80,305.00 C518.70,304.23 521.60,303.70 524.00,303.40 C526.40,303.10 529.00,303.17 531.20,303.20 C533.40,303.23 535.53,303.37 537.20,303.60 C538.87,303.83 540.53,304.43 541.20,304.60" stroke="#3838ec" stroke-width="2"/>
</g>
<g stroke="#3a3a3a" stroke-width="1.8"><line x1="98.97" y1="289.40" x2="98.97" y2="294.40"/><line x1="98.97" y1="380.70" x2="98.97" y2="375.70"/><line x1="123.54" y1="289.40" x2="123.54" y2="294.40"/><line x1="123.54" y1="380.70" x2="123.54" y2="375.70"/><line x1="148.11" y1="289.40" x2="148.11" y2="294.40"/><line x1="148.11" y1="380.70" x2="148.11" y2="375.70"/><line x1="172.67" y1="289.40" x2="172.67" y2="294.40"/><line x1="172.67" y1="380.70" x2="172.67" y2="375.70"/><line x1="197.24" y1="289.40" x2="197.24" y2="294.40"/><line x1="197.24" y1="380.70" x2="197.24" y2="375.70"/><line x1="221.81" y1="289.40" x2="221.81" y2="294.40"/><line x1="221.81" y1="380.70" x2="221.81" y2="375.70"/><line x1="246.38" y1="289.40" x2="246.38" y2="294.40"/><line x1="246.38" y1="380.70" x2="246.38" y2="375.70"/><line x1="270.95" y1="289.40" x2="270.95" y2="294.40"/><line x1="270.95" y1="380.70" x2="270.95" y2="375.70"/><line x1="295.52" y1="289.40" x2="295.52" y2="294.40"/><line x1="295.52" y1="380.70" x2="295.52" y2="375.70"/><line x1="320.08" y1="289.40" x2="320.08" y2="294.40"/><line x1="320.08" y1="380.70" x2="320.08" y2="375.70"/><line x1="344.65" y1="289.40" x2="344.65" y2="294.40"/><line x1="344.65" y1="380.70" x2="344.65" y2="375.70"/><line x1="369.22" y1="289.40" x2="369.22" y2="294.40"/><line x1="369.22" y1="380.70" x2="369.22" y2="375.70"/><line x1="393.79" y1="289.40" x2="393.79" y2="294.40"/><line x1="393.79" y1="380.70" x2="393.79" y2="375.70"/><line x1="418.36" y1="289.40" x2="418.36" y2="294.40"/><line x1="418.36" y1="380.70" x2="418.36" y2="375.70"/><line x1="442.93" y1="289.40" x2="442.93" y2="294.40"/><line x1="442.93" y1="380.70" x2="442.93" y2="375.70"/><line x1="467.49" y1="289.40" x2="467.49" y2="294.40"/><line x1="467.49" y1="380.70" x2="467.49" y2="375.70"/><line x1="492.06" y1="289.40" x2="492.06" y2="294.40"/><line x1="492.06" y1="380.70" x2="492.06" y2="375.70"/><line x1="516.63" y1="289.40" x2="516.63" y2="294.40"/><line x1="516.63" y1="380.70" x2="516.63" y2="375.70"/><line x1="74.40" y1="298.53" x2="79.80" y2="298.53"/><line x1="541.20" y1="298.53" x2="535.80" y2="298.53"/><line x1="74.40" y1="307.66" x2="79.80" y2="307.66"/><line x1="541.20" y1="307.66" x2="535.80" y2="307.66"/><line x1="74.40" y1="316.79" x2="79.80" y2="316.79"/><line x1="541.20" y1="316.79" x2="535.80" y2="316.79"/><line x1="74.40" y1="325.92" x2="79.80" y2="325.92"/><line x1="541.20" y1="325.92" x2="535.80" y2="325.92"/><line x1="74.40" y1="335.05" x2="79.80" y2="335.05"/><line x1="541.20" y1="335.05" x2="535.80" y2="335.05"/><line x1="74.40" y1="344.18" x2="79.80" y2="344.18"/><line x1="541.20" y1="344.18" x2="535.80" y2="344.18"/><line x1="74.40" y1="353.31" x2="79.80" y2="353.31"/><line x1="541.20" y1="353.31" x2="535.80" y2="353.31"/><line x1="74.40" y1="362.44" x2="79.80" y2="362.44"/><line x1="541.20" y1="362.44" x2="535.80" y2="362.44"/><line x1="74.40" y1="371.57" x2="79.80" y2="371.57"/><line x1="541.20" y1="371.57" x2="535.80" y2="371.57"/><rect x="74.40" y="289.40" width="466.80" height="91.30" fill="none" stroke-linejoin="round"/></g>
<rect x="341" y="291.8" width="118.6" height="22.1" rx="1.5" fill="#fff" stroke="#111" stroke-width="1.6"/>
<line x1="345.1" y1="302.8" x2="364.7" y2="302.8" stroke="#8c8ce6" stroke-width="1.6"/>
<text x="368.3" y="306.6" font-size="11.5" style="fill:#333;stroke:#333;stroke-width:0.3">Phase difference</text>
<path d="M252.8,120.9 H403 Q408.5,120.9 408.5,126.4 V151.8 Q408.5,157.3 403,157.3 H252.3 Q247.1,157.3 247.1,152 V136.4 L226.4,138.3 L247.3,127.8 Q247.6,120.9 252.8,120.9 Z" fill="#f9f9fa" stroke="#c41424" stroke-width="2" stroke-linejoin="round"/>
<text x="253.7" y="133.9" font-size="11.7" textLength="145" lengthAdjust="spacingAndGlyphs" style="fill:#3c3c46;stroke:#3c3c46;stroke-width:0.35">Oscillation Frequency 685Hz</text>
<text x="254.2" y="147.8" font-size="11.7" textLength="116" lengthAdjust="spacingAndGlyphs" style="fill:#3c3c46;stroke:#3c3c46;stroke-width:0.35">Phase difference 206.3°</text>
<path d="M213.0,381.5 V6.7 H220.2 V381.5" fill="none" stroke="#0fa24c" stroke-width="2.6"/>
<text x="61.6" y="21.5" font-size="15" text-anchor="end">8000</text>
<text x="61.6" y="41.8" font-size="15" text-anchor="end">6000</text>
<text x="61.6" y="63.4" font-size="15" text-anchor="end">4000</text>
<text x="61.6" y="83.7" font-size="15" text-anchor="end">2000</text>
<text x="61.6" y="104.0" font-size="15" text-anchor="end">0</text>
<text x="67.5" y="160.8" font-size="15" text-anchor="end">−140</text>
<text x="65.2" y="204.7" font-size="15" text-anchor="end">0</text>
<text x="68.4" y="244.7" font-size="15" text-anchor="end">−100</text>
<text x="66.0" y="301.5" font-size="15" text-anchor="end">220</text>
<text x="66.5" y="346.7" font-size="15" text-anchor="end">0</text>
<text x="68.0" y="383.6" font-size="15" text-anchor="end">−180</text>
<text x="81.5" y="120.4" font-size="15" text-anchor="middle">100</text>
<text x="178.4" y="120.4" font-size="15" text-anchor="middle">500</text>
<text x="295.9" y="120.4" font-size="15" text-anchor="middle">1000</text>
<text x="415.8" y="120.4" font-size="15" text-anchor="middle">1500</text>
<text x="518.0" y="120.4" font-size="15" text-anchor="middle">2000</text>
<text x="81.5" y="260.8" font-size="15" text-anchor="middle">100</text>
<text x="178.4" y="260.8" font-size="15" text-anchor="middle">500</text>
<text x="295.9" y="260.8" font-size="15" text-anchor="middle">1000</text>
<text x="415.8" y="260.8" font-size="15" text-anchor="middle">1500</text>
<text x="518.0" y="260.8" font-size="15" text-anchor="middle">2000</text>
<text x="81.5" y="394.9" font-size="15" text-anchor="middle">100</text>
<text x="178.4" y="394.9" font-size="15" text-anchor="middle">500</text>
<text x="295.9" y="394.9" font-size="15" text-anchor="middle">1000</text>
<text x="415.8" y="394.9" font-size="15" text-anchor="middle">1500</text>
<text x="518.0" y="394.9" font-size="15" text-anchor="middle">2000</text>
<text x="299.8" y="272.9" font-size="15" text-anchor="middle">Frequency/Hz</text>
<text x="299.8" y="406.8" font-size="15" text-anchor="middle">Frequency/Hz</text>
<text transform="translate(19.5,60.9) rotate(-90)" font-size="15" text-anchor="middle">Magnititude/dB</text>
<text transform="translate(19.5,200.6) rotate(-90)" font-size="15" text-anchor="middle">Phase/°</text>
<text transform="translate(19.5,336.7) rotate(-90)" font-size="15" text-anchor="middle">Phase margin/°</text>
</svg></body></html>
